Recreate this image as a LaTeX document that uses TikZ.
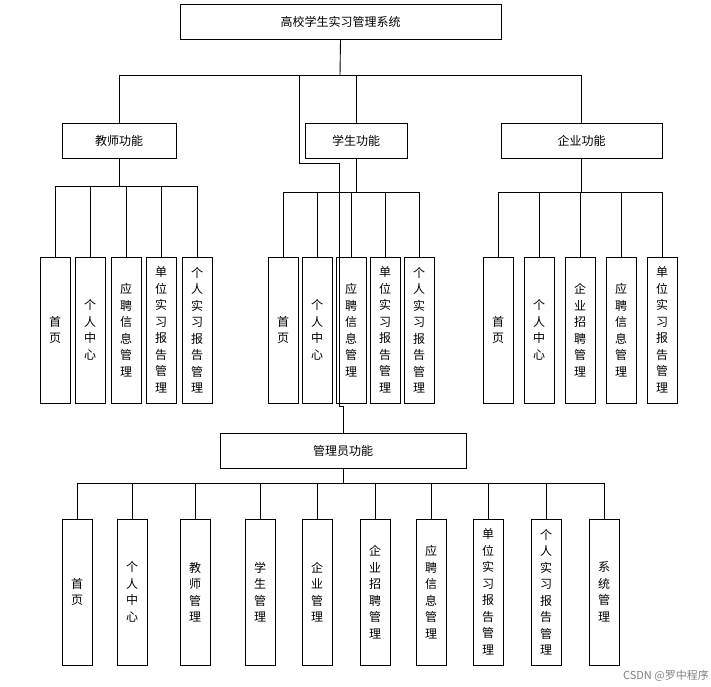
\documentclass[tikz,border=0pt]{standalone}
\usepackage{fontspec}
\newfontfamily\cjk{Noto Sans CJK SC}
\begin{document}
\begin{tikzpicture}[x=1pt,y=-1pt,
  box/.style={draw,thick,minimum height=35pt,inner sep=0pt,font=\cjk\fontsize{12}{14}\selectfont},
  leaf/.style={draw,thick,minimum width=30pt,minimum height=146pt,inner sep=0pt,align=center,font=\cjk\fontsize{12}{16.5}\selectfont},
  ln/.style={draw,thick,line width=0.9pt}]
\useasboundingbox (0,0) rectangle (711,686);
\node[box,minimum width=321pt] (root) at (340.5,22) {高校学生实习管理系统};
\node[box,minimum width=114pt] (t) at (119,140.5) {教师功能};
\node[box,minimum width=102pt] (s) at (356,140.5) {学生功能};
\node[box,minimum width=161pt] (e) at (581.5,140.5) {企业功能};
\node[box,minimum width=246pt] (a) at (343,451) {管理员功能};
\coordinate (rb) at (340,75);
\draw[ln] (root.south) -- (rb);
\draw[ln] (t.north) |- (e.north |- rb) -- (e.north);
\draw[ln] (s.north) -- (s.north |- rb);
% teacher leaves
\foreach \n/\x/\t in {t1/55/首\\页, t2/90/个\\人\\中\\心, t3/126/应\\聘\\信\\息\\管\\理, t4/161/单\\位\\实\\习\\报\\告\\管\\理, t5/197/个\\人\\实\\习\\报\\告\\管\\理}
  {\node[leaf] (\n) at (\x,330) {\t};}
\draw[ln] (t.south) -- (t.south |- 0,186);
\draw[ln] (t1.north) |- (t5.north |- 0,186) -- (t5.north);
\foreach \n in {t2,t3,t4} \draw[ln] (\n.north) -- (\n.north |- 0,186);
% student leaves
\foreach \n/\x/\t in {s1/283/首\\页, s2/317/个\\人\\中\\心, s3/351/应\\聘\\信\\息\\管\\理, s4/385/单\\位\\实\\习\\报\\告\\管\\理, s5/419/个\\人\\实\\习\\报\\告\\管\\理}
  {\node[leaf] (\n) at (\x,330) {\t};}
\draw[ln] (s.south) -- (s.south |- 0,192);
\draw[ln] (s1.north) |- (s5.north |- 0,192) -- (s5.north);
\foreach \n in {s2,s3,s4} \draw[ln] (\n.north) -- (\n.north |- 0,192);
% enterprise leaves
\foreach \n/\x/\t in {e1/498/首\\页, e2/539/个\\人\\中\\心, e3/580/企\\业\\招\\聘\\管\\理, e4/621/应\\聘\\信\\息\\管\\理, e5/662/单\\位\\实\\习\\报\\告\\管\\理}
  {\node[leaf] (\n) at (\x,330) {\t};}
\draw[ln] (e.south) -- (e.south |- 0,192);
\draw[ln] (e1.north) |- (e5.north |- 0,192) -- (e5.north);
\foreach \n in {e2,e3,e4} \draw[ln] (\n.north) -- (\n.north |- 0,192);
% admin route
\coordinate (ar1) at (299,75);
\draw[ln] (ar1) -- (299,163) -- (339,163) -- (339,406) -- (343,406) -- (a.north);
% admin leaves
\foreach \n/\x/\t in {a1/77/首\\页, a2/132/个\\人\\中\\心, a3/195/教\\师\\管\\理, a4/260/学\\生\\管\\理, a5/317/企\\业\\管\\理, a6/375/企\\业\\招\\聘\\管\\理, a7/431/应\\聘\\信\\息\\管\\理, a8/488/单\\位\\实\\习\\报\\告\\管\\理, a9/546/个\\人\\实\\习\\报\\告\\管\\理, a10/604/系\\统\\管\\理}
  {\node[leaf] (\n) at (\x,592) {\t};}
\draw[ln] (a.south) -- (a.south |- 0,483);
\draw[ln] (a1.north) |- (a10.north |- 0,483) -- (a10.north);
\foreach \n in {a2,a3,a4,a5,a6,a7,a8,a9} \draw[ln] (\n.north) -- (\n.north |- 0,483);
\node[anchor=south east,inner sep=2pt,text=gray,font=\cjk\fontsize{11}{12}\selectfont] (wm) at (711,684) {CSDN @罗中程序};
\end{tikzpicture}
\end{document}
